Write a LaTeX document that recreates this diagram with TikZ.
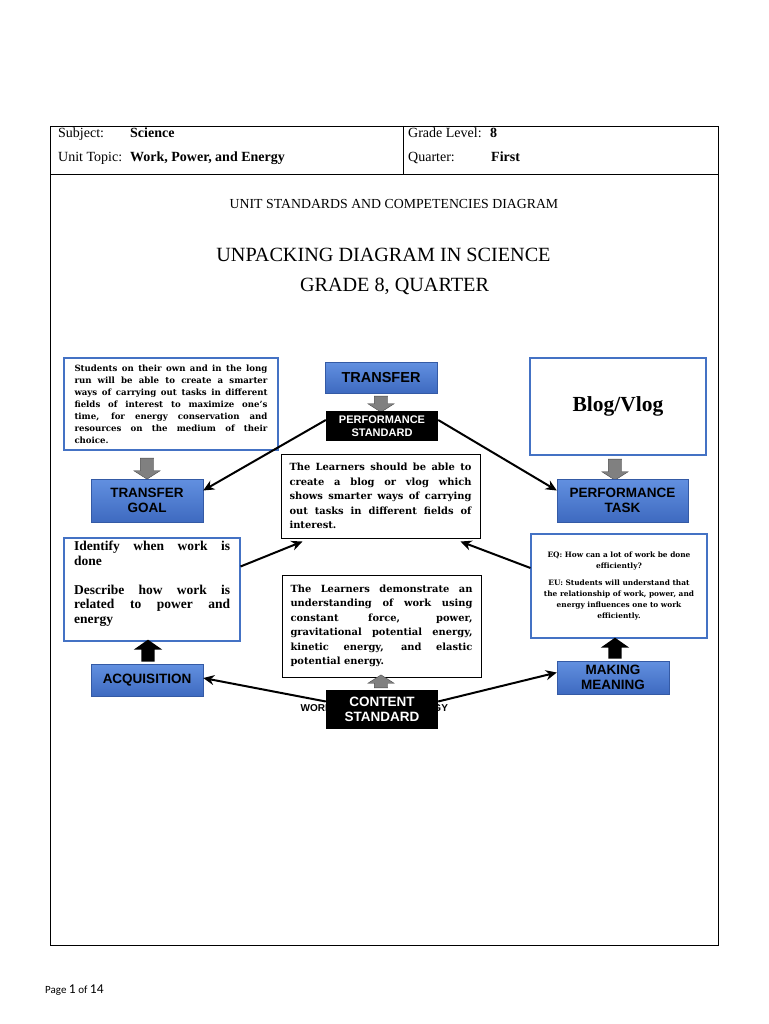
\documentclass[tikz,border=0pt]{standalone}
\usepackage{fontspec}
\setmainfont{Liberation Serif}
\setsansfont{Liberation Sans}
\newfontfamily\bookman{DejaVu Serif}
\newfontfamily\calib{Carlito}
\usepackage{tikz}
\usetikzlibrary{shapes,arrows,arrows.meta,positioning,calc}
\usepackage{xcolor}
\definecolor{boxtop}{RGB}{98,144,224}
\definecolor{boxbot}{RGB}{62,106,192}
\definecolor{boxedge}{RGB}{52,90,165}
\definecolor{frameblue}{RGB}{68,114,196}
\definecolor{arrowgray}{RGB}{128,128,128}
\newcommand{\fs}[2]{\fontsize{#1}{#2}\selectfont}

\begin{document}
\begin{tikzpicture}[
    x=1pt, y=-1pt,
    >={Stealth[length=11pt, width=10pt]},
    tagbox/.style={rectangle, draw=boxedge, top color=boxtop, bottom color=boxbot, font=\sffamily\bfseries\fs{13.5}{15.5}, align=center, minimum width=112pt, inner sep=0pt},
    stdbox/.style={rectangle, fill=black, text=white, align=center, minimum width=112pt, inner sep=0pt},
    textbox/.style={rectangle, draw=frameblue, line width=1.1pt, inner sep=0pt},
    learnbox/.style={rectangle, draw, line width=1pt, font=\bookman\bfseries\fs{9.9}{14.5}, align=justify, text width=182pt, inner xsep=8.5pt},
    grayarrow/.style={single arrow, draw=gray!60!black, fill=arrowgray, inner xsep=6.5pt, inner ysep=0pt, single arrow head extend=6.5pt, single arrow tip angle=115},
    blackarrow/.style={single arrow, fill=black, inner xsep=6.5pt, inner ysep=0pt, single arrow head extend=7.5pt, single arrow tip angle=110, shape border rotate=90},
    head/.style={anchor=base west, inner sep=0pt, font=\fs{14}{16}},
    link/.style={->, line width=2pt}
]
    \useasboundingbox (0,0) rectangle (768,1024);

    % Page frame
    \draw[line width=0.8pt] (50,126) rectangle (718,945);
    \draw[line width=0.8pt] (50,174) -- (718,174);
    \draw[line width=0.8pt] (403,126) -- (403,174);

    % Header
    \node[head] (subj) at (58,138) {Subject:};
    \node[head, font=\bfseries\fs{14}{16}] (subjval) at (130,138) {Science};
    \node[head] (topic) at (58,162) {Unit Topic:};
    \node[head, font=\bfseries\fs{14}{16}] (topicval) at (130,162) {Work, Power, and Energy};
    \node[head] (grade) at (408,138) {Grade Level:};
    \node[head, font=\bfseries\fs{14}{16}] (gradeval) at (490,138) {8};
    \node[head] (quarter) at (408,162) {Quarter:};
    \node[head, font=\bfseries\fs{14}{16}] (quarterval) at (491,162) {First};

    % Titles
    \node[anchor=base, font=\fs{13.8}{15}] (usc) at (394,209) {UNIT STANDARDS AND COMPETENCIES DIAGRAM};
    \node[anchor=base, font=\fs{20.2}{22}] (title) at (383.5,261) {UNPACKING DIAGRAM IN SCIENCE};
    \node[anchor=base, font=\fs{20.2}{22}] (subtitle) at (394.5,291) {GRADE 8, QUARTER};

    % Transfer column
    \node[tagbox, minimum height=31pt, font=\sffamily\bfseries\fs{14.5}{16}] (transfer) at (381,377.5) {TRANSFER};
    \node[grayarrow, minimum height=16pt, shape border rotate=270] (garrowtop) at (381,402) {};
    \node[stdbox, minimum height=30pt, font=\sffamily\bfseries\fs{11}{13}] (perfstd) at (382,426) {PERFORMANCE\\STANDARD};

    % Transfer goal
    \node[textbox, text width=193pt, inner xsep=10.5pt, minimum height=92pt, font=\bookman\bfseries\fs{8.6}{12}, align=justify] (goaltext) at (171,404) {Students on their own and in the long\linebreak run will be able to create a smarter\linebreak ways of carrying out tasks in different\linebreak fields of interest to maximize one’s\linebreak time, for energy conservation and\linebreak resources on the medium of their\linebreak choice.};
    \node[grayarrow, minimum height=21pt, shape border rotate=270] (garrowl) at (147,466.5) {};
    \node[tagbox, minimum height=43pt] (tgoal) at (147,500.5) {TRANSFER\\GOAL};

    % Performance task
    \node[textbox, minimum width=176pt, minimum height=97pt, font=\bfseries\fs{21.5}{23}] (blog) at (618,406.5) {Blog/Vlog};
    \node[grayarrow, minimum height=21pt, shape border rotate=270] (garrowr) at (615,467.5) {};
    \node[tagbox, minimum width=131pt, minimum height=43pt] (ptask) at (622.5,500.5) {PERFORMANCE\\TASK};

    % Performance standard text
    \node[learnbox, minimum height=84pt] (ctop) at (380.5,496) {The Learners should be able to\linebreak create a blog or vlog which\linebreak shows smarter ways of carrying\linebreak out tasks in different fields of\linebreak interest.};

    % Acquisition
    \node[textbox, minimum width=176pt, minimum height=103pt] (acqbox) at (152,589.5) {};
    \node[anchor=north west, text width=156pt, align=justify, inner sep=0pt, font=\bfseries\fs{13.5}{14.5}] (acqtext) at (74,541) {Identify when work is\linebreak done\par\vspace{14.5pt}Describe how work is\linebreak related to power and\linebreak energy};
    \node[blackarrow, minimum height=22pt] (barrowl) at (148,653) {};
    \node[tagbox, minimum height=32pt] (acq) at (147,680) {ACQUISITION};

    % Making meaning
    \node[textbox, minimum width=176pt, minimum height=104pt, font=\bookman\bfseries\fs{7.4}{11}, align=center] (eqbox) at (619,586) {EQ: How can a lot of work be done\\efficiently?\\[6pt]EU: Students will understand that\\the relationship of work, power, and\\energy influences one to work\\efficiently.};
    \node[blackarrow, minimum height=21pt] (barrowr) at (615,650.5) {};
    \node[tagbox, minimum height=33pt] (mm) at (613,677.5) {MAKING\\MEANING};

    % Content standard
    \node[learnbox, minimum height=102pt] (ccont) at (381.5,626) {The Learners demonstrate an\linebreak understanding of work using\linebreak constant force, power,\linebreak gravitational potential energy,\linebreak kinetic energy, and elastic\linebreak potential energy.};
    \node[grayarrow, minimum height=13pt, shape border rotate=90] (garrowup) at (381,683.5) {};
    \node[anchor=base west, inner sep=0pt, font=\sffamily\bfseries\fs{10}{12}] (wpe) at (300.5,711) {WORK, POWER, AND ENERGY};
    \node[stdbox, minimum height=39pt, font=\sffamily\bfseries\fs{13.5}{15.5}] (cstd) at (382,709.5) {CONTENT\\STANDARD};

    % Edges
    \draw[link] ([yshift=6pt]perfstd.west) -- ([yshift=10pt]tgoal.east);
    \draw[link] ([yshift=6pt]perfstd.east) -- ([yshift=10pt]ptask.west);
    \draw[link] ([yshift=23pt]acqbox.east) -- ([xshift=22pt,yshift=-3pt]ctop.south west);
    \draw[link] ([yshift=18pt]eqbox.west) -- ([xshift=-20pt,yshift=-3pt]ctop.south east);
    \draw[link] ([yshift=8pt]cstd.west) -- ([yshift=2pt]acq.east);
    \draw[link] ([yshift=8pt]cstd.east) -- ([yshift=5pt]mm.west);

    % Footer
    \node[anchor=base west, inner sep=0pt, font=\calib\fs{11}{13}] (pg) at (45,993) {Page {\fs{13.5}{13.5}1} of {\fs{13.5}{13.5}14}};
\end{tikzpicture}
\end{document}
